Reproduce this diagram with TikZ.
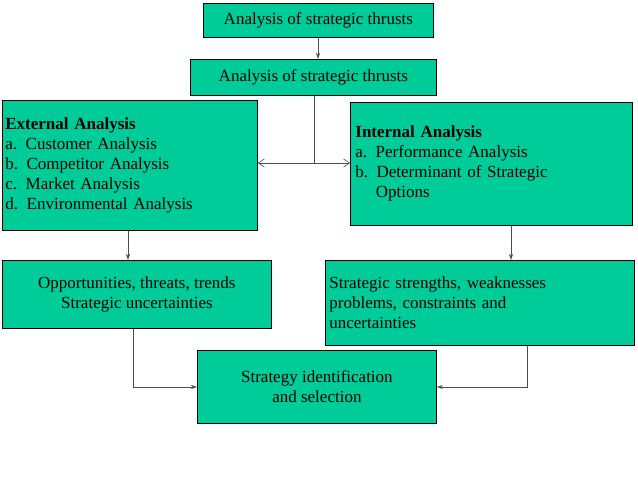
\documentclass[tikz,border=0pt]{standalone}
\usepackage{fontspec}
\setmainfont{Liberation Serif}
\usetikzlibrary{arrows.meta}
\definecolor{boxg}{HTML}{00CC99}
\begin{document}
\begin{tikzpicture}[x=1pt,y=-1pt,
  bx/.style={draw=black,fill=boxg,line width=0.8pt,anchor=north west,inner sep=0pt,font=\fontsize{17}{20}\selectfont},
  ar/.style={-{Stealth[length=6pt,width=4pt]},line width=0.6pt,draw=black!70},
  oar/.style={{Straight Barb[length=6pt,width=8pt]}-{Straight Barb[length=6pt,width=8pt]},line width=0.6pt,draw=black!70}]
\useasboundingbox (0,0) rectangle (638,479);
\node[bx,minimum width=230pt,minimum height=34pt] (t1) at (203,3) {Analysis of strategic thrusts};
\node[bx,minimum width=246pt,minimum height=36pt] (t2) at (190,59) {Analysis of strategic thrusts};
\node[bx,minimum width=253pt,minimum height=130pt,align=left,text width=249pt,inner xsep=3pt] (ext) at (2,100)
 {\textbf{External Analysis}\\a. Customer Analysis\\b. Competitor Analysis\\c. Market Analysis\\d. Environmental Analysis};
\node[bx,minimum width=282pt,minimum height=123pt,align=left,text width=272pt,inner xsep=5pt] (int) at (350,102)
 {\textbf{Internal Analysis}\\a. Performance Analysis\\b. Determinant of Strategic\\\hspace*{1.2em}Options\\[10pt]};
\node[bx,minimum width=269pt,minimum height=68pt,align=center] (opp) at (2,260)
 {Opportunities, threats, trends\\Strategic uncertainties};
\node[bx,minimum width=309pt,minimum height=85pt,align=left,text width=301pt,inner xsep=4pt] (str) at (325,260)
 {Strategic strengths, weaknesses\\problems, constraints and\\uncertainties\\[12pt]};
\node[bx,minimum width=239pt,minimum height=73pt,align=center] (sel) at (197,350)
 {Strategy identification\\and selection};
\coordinate (j) at (314,163);
\draw[ar] (t1.south -| 318,0) -- (t2.north -| 318,0);
\draw[line width=0.6pt,draw=black!70] (t2.south -| j) -- (j);
\draw[oar] (ext.east |- j) -- (int.west |- j);
\draw[ar] (ext.south -| 128,0) -- (opp.north -| 128,0);
\draw[ar] (int.south -| 511,0) -- (str.north -| 511,0);
\draw[ar] (opp.south -| 133,0) |- (sel.west |- 0,387);
\draw[ar] (str.south -| 527,0) |- (sel.east |- 0,387);
\end{tikzpicture}
\end{document}
